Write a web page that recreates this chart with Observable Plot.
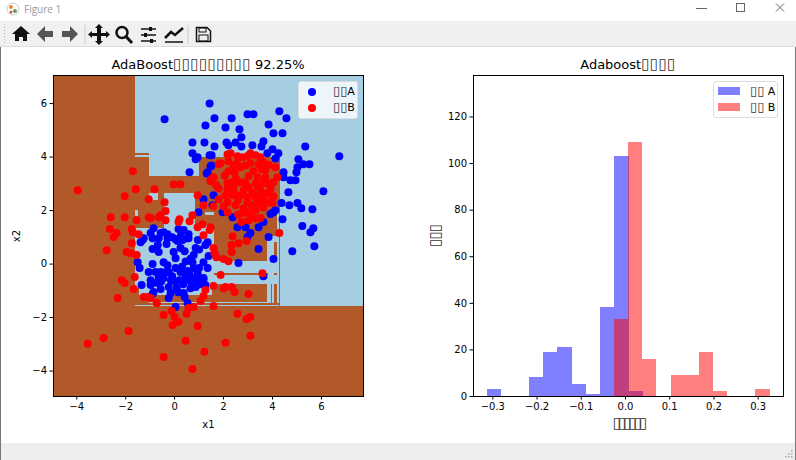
<!DOCTYPE html>
<html><head><meta charset="utf-8">
<script src="https://cdn.jsdelivr.net/npm/d3@7"></script>
<script src="https://cdn.jsdelivr.net/npm/@observablehq/plot@0.6"></script>
<style>
html,body{margin:0;padding:0;background:#fff;overflow:hidden}
#win{position:relative;width:796px;height:460px;font-family:"DejaVu Sans",sans-serif;color:#000;overflow:hidden;background:#fff}
.abs{position:absolute}
.title{font-size:13px;text-align:center;white-space:nowrap;line-height:14px}
.t{font-size:15px;letter-spacing:.4px;line-height:0;color:#333}
.legend{background:rgba(255,255,255,.8);border:1px solid #ddd;border-radius:3px;box-sizing:border-box;font-size:11px}
.legend span{position:absolute;white-space:nowrap;line-height:12px}
.legend .t{position:static;font-size:13px;letter-spacing:0;line-height:0}
#right g[aria-label="x-axis label"] text{font-size:15px;letter-spacing:-3px;fill:#333}
#right g[aria-label="y-axis label"] text{font-size:15px;letter-spacing:-1px;fill:#333}
svg{overflow:visible}
</style></head><body>
<div id="win">
  <div class="abs" style="left:0;top:0;width:796px;height:21px;background:#fff"></div>
  <svg class="abs" style="left:6px;top:2px" width="14" height="14"><circle cx="7" cy="7" r="6" fill="none" stroke="#ccc"/><circle cx="5" cy="5" r="2" fill="#e8893a"/><circle cx="9" cy="9" r="2" fill="#5a9e5a"/><circle cx="5" cy="10" r="1.5" fill="#d95050"/></svg>
  <div class="abs" style="left:24px;top:3px;font:10px 'Open Sans',sans-serif;color:#999;line-height:13px">Figure 1</div>
  <svg class="abs" style="left:690px;top:0" width="100" height="16" stroke="#666" fill="none"><path d="M6 8.5H17"/><rect x="46.5" y="3.5" width="8" height="8"/><path d="M86 3.500l8 8M94 3.500l-8 8"/></svg>
  <div class="abs" style="left:0;top:21px;width:796px;height:26px;background:#f0f0f0;border-bottom:1px solid #ddd;box-sizing:border-box"></div>
  <svg class="abs" style="left:0;top:21px" width="230" height="26">
    <path d="M4.500 3V22" stroke="#bbb" stroke-dasharray="1 2"/>
    <path d="M12 13L21 5L30 13H27V20H23V16H19V20H15V13Z" fill="#111"/>
    <path d="M37 13L45 5V10H53V16H45V21Z" fill="#555"/>
    <path d="M78 13L70 5V10H62V16H70V21Z" fill="#555"/>
    <path d="M85 4V23" stroke="#ccc"/>
    <path d="M99 3L103 7H101V12H106V10L110 13.500L106 17V15H101V20H103L99 24L95 20H97V15H92V17L88 13.500L92 10V12H97V7H95Z" fill="#111"/>
    <circle cx="122" cy="11.500" r="5.500" fill="none" stroke="#111" stroke-width="2.500"/><path d="M126 15.500L132 22" stroke="#111" stroke-width="3"/>
    <path d="M141 8H156M141 14H156M141 20H156" stroke="#111" stroke-width="1.500"/><rect x="149" y="6" width="3" height="4" fill="#111"/><rect x="144" y="12" width="3" height="4" fill="#111"/><rect x="150" y="18" width="3" height="4" fill="#111"/>
    <path d="M165 17L171 11L175 14L183 7" fill="none" stroke="#111" stroke-width="2.500"/><path d="M165 21H183" stroke="#111" stroke-width="1.500"/>
    <path d="M188 4V23" stroke="#ccc"/>
    <path d="M196.500 6.500H207L210.500 10V20.500H196.500Z" fill="none" stroke="#111" stroke-width="1.500"/><rect x="199" y="7" width="7" height="4" fill="none" stroke="#111"/><rect x="199" y="14" width="9" height="6" fill="none" stroke="#111"/>
  </svg>
  <div class="abs" style="left:0;top:47px;width:1px;height:413px;background:#777"></div>
  <div class="abs" style="left:795px;top:47px;width:1px;height:413px;background:#777"></div>
  <div id="left" class="abs" style="left:0;top:47px"></div>
  <div id="right" class="abs" style="left:398px;top:47px"></div>
  <div class="abs title" style="left:53px;width:310px;top:58px">AdaBoost<span class="t">▯▯▯▯▯▯▯▯▯</span> 92.25%</div>
  <div class="abs title" style="left:473px;width:310px;top:58px">Adaboost<span class="t">▯▯▯▯</span></div>
  <div class="abs legend" style="left:298px;top:81px;width:60px;height:38px">
    <svg class="abs" style="left:0;top:0" width="30" height="36"><circle cx="13" cy="10" r="4" fill="blue"/><circle cx="13" cy="26" r="4" fill="red"/></svg>
    <span style="left:34px;top:4px"><span class="t">▯▯</span>A</span>
    <span style="left:34px;top:20px"><span class="t">▯▯</span>B</span>
  </div>
  <div class="abs legend" style="left:713px;top:81px;width:65px;height:37px">
    <svg class="abs" style="left:0;top:0" width="30" height="36"><rect x="4" y="5" width="22" height="8" fill="blue" fill-opacity=".5"/><rect x="4" y="21" width="22" height="8" fill="red" fill-opacity=".5"/></svg>
    <span style="left:36px;top:4px"><span class="t">▯▯</span> A</span>
    <span style="left:36px;top:20px"><span class="t">▯▯</span> B</span>
  </div>
  <div class="abs" style="left:1px;top:443px;width:794px;height:17px;background:#eee"></div>
  <svg class="abs" style="left:782px;top:449px" width="12" height="10" fill="#aaa"><rect x="9" y="1" width="1.500" height="1.500"/><rect x="6" y="4" width="1.500" height="1.500"/><rect x="9" y="4" width="1.500" height="1.500"/><rect x="3" y="7" width="1.500" height="1.500"/><rect x="6" y="7" width="1.500" height="1.500"/><rect x="9" y="7" width="1.500" height="1.500"/></svg>
</div>
<script>
const classA = [[-0.41,5.41],[1.43,6.00],[1.26,5.18],[0.73,4.55],[1.22,4.55],[0.73,4.14],[0.94,3.99],[0.86,3.92],[1.43,4.07],[0.61,3.43],[1.31,3.39],[1.47,3.66],[1.18,2.42],[0.98,1.94],[1.63,5.45],[2.33,5.45],[2.08,5.11],[2.98,5.60],[3.22,5.60],[4.28,5.71],[4.57,5.45],[3.84,5.22],[2.65,5.04],[4.04,4.89],[4.41,4.89],[2.73,4.74],[1.63,4.40],[2.12,4.55],[2.20,4.44],[2.49,4.55],[2.73,4.40],[3.18,4.44],[3.63,4.59],[3.55,4.40],[5.34,4.40],[6.73,4.03],[1.51,4.07],[3.79,4.14],[4.00,4.29],[4.24,4.14],[4.12,3.95],[5.06,3.92],[5.02,3.62],[5.26,3.73],[5.51,3.73],[4.98,3.43],[4.45,3.43],[4.45,3.25],[4.73,3.13],[4.94,3.13],[1.51,3.69],[1.35,3.43],[6.08,2.72],[4.65,2.69],[1.59,2.57],[4.37,2.28],[4.69,2.20],[5.02,2.28],[5.18,2.09],[5.63,2.05],[1.96,1.94],[2.37,1.75],[3.92,1.87],[4.12,2.01],[4.41,1.68],[3.43,1.38],[3.63,1.57],[2.57,1.38],[5.22,1.42],[5.67,1.34],[2.90,1.38],[3.10,1.16],[2.98,1.01],[3.84,1.01],[4.04,1.94],[1.55,2.20],[4.04,0.19],[3.43,0.56],[2.61,0.04],[1.18,0.07],[1.39,0.30],[1.35,0.82],[1.26,0.71],[4.81,0.48],[5.71,0.67],[5.55,1.19],[3.63,-0.45],[1.18,-0.56],[-1.31,0.90],[-1.39,0.82],[-0.90,0.56],[-0.69,0.71],[-0.65,0.45],[-0.33,0.75],[-0.90,0.97],[-0.29,0.97],[0.12,0.86],[0.33,0.90],[0.57,0.97],[0.24,0.60],[-0.04,0.45],[0.41,0.48],[0.86,0.60],[0.78,0.34],[0.04,0.22],[0.73,0.07],[-0.45,0.07],[-0.29,-0.04],[-0.90,0.00],[-1.51,0.07],[-1.43,-0.15],[-1.06,-0.30],[-0.78,-0.30],[-0.57,-0.30],[-0.24,-0.30],[0.04,-0.15],[0.24,-0.30],[0.53,-0.26],[0.78,-0.15],[0.94,-0.34],[0.45,-0.48],[0.73,-0.52],[-0.98,-0.60],[-0.45,-0.52],[-0.65,-0.48],[0.04,-0.67],[-1.35,-0.78],[-0.98,-0.78],[-0.57,-0.93],[-0.24,-0.86],[0.08,-0.90],[0.65,-0.90],[0.86,-0.86],[1.02,-0.75],[1.26,-0.78],[0.37,-1.08],[0.41,-1.23],[-0.16,-1.08],[-0.24,-1.27],[-0.90,-1.12],[-0.86,-1.04],[1.18,-0.52],[0.04,-1.60],[0.53,-1.45],[1.35,-0.15],[-0.86,1.34],[-0.98,1.16],[-1.26,0.97],[-0.57,1.16],[-0.29,1.12],[-0.45,1.19],[0.16,1.31],[0.37,1.27],[0.57,1.12],[0.53,0.97],[0.04,0.93],[-0.65,0.97],[-0.10,-0.45],[0.30,-0.10],[0.50,-0.60],[0.60,-0.35],[0.20,-0.60],[0.35,-0.75],[0.90,-0.55],[1.00,-0.15],[0.65,0.20],[0.45,0.10],[-0.15,-0.60],[-0.35,-0.30],[-0.75,-0.70],[-0.55,-0.65],[0.70,-0.70],[0.15,-1.05],[1.00,0.55],[0.95,0.90],[0.25,1.05],[-0.10,1.00]];
const classB = [[-3.96,2.76],[-1.71,3.47],[-1.59,2.80],[-0.82,2.80],[-2.04,2.54],[-1.06,2.42],[-0.04,2.98],[0.24,2.98],[0.94,2.57],[-0.41,2.31],[1.18,2.20],[1.47,3.13],[-0.37,1.98],[-2.61,1.75],[-2.04,1.75],[-1.06,1.75],[-0.98,1.72],[-0.65,1.75],[-0.57,1.83],[-1.55,1.64],[-0.37,1.64],[0.20,1.68],[0.16,1.57],[0.61,1.60],[0.73,1.83],[0.94,1.38],[1.14,1.49],[-2.65,1.31],[-1.75,1.31],[1.47,1.38],[-2.37,1.16],[-2.49,1.01],[-1.71,1.19],[-1.47,1.12],[-1.75,0.78],[-2.78,0.52],[-1.96,0.45],[-1.80,0.41],[-1.55,0.34],[-1.63,-0.48],[-2.16,-0.60],[-2.04,-0.71],[-1.67,-0.93],[-2.33,-1.27],[-1.26,-1.23],[-1.10,-1.23],[-0.98,-1.27],[-0.73,-1.45],[-0.12,-1.75],[-0.45,-1.90],[0.00,-1.98],[0.16,-2.16],[-0.08,-2.28],[0.49,-1.86],[0.78,-1.60],[0.57,-1.64],[0.94,-2.31],[-1.88,-2.50],[-2.90,-2.76],[-3.55,-2.98],[0.45,-2.87],[1.22,-3.28],[-0.45,-3.47],[0.73,-3.92],[1.06,-1.38],[1.18,-1.19],[1.26,-0.97],[1.18,1.08],[1.43,1.27],[4.28,1.16],[2.37,1.04],[2.61,0.78],[2.94,0.86],[2.33,0.71],[2.33,0.45],[1.59,0.60],[1.63,0.41],[1.71,0.26],[2.00,0.19],[2.20,0.11],[1.88,-0.41],[3.59,-0.34],[1.59,-0.82],[2.00,-0.90],[2.08,-0.86],[2.33,-0.86],[2.45,-1.04],[3.02,-1.12],[1.59,-1.57],[2.57,-1.86],[2.94,-2.05],[3.10,-1.98],[3.10,-2.68],[2.08,-2.94],[2.29,4.14],[2.16,4.10],[1.88,3.77],[1.80,3.73],[2.20,3.84],[2.57,4.03],[2.78,3.99],[3.10,4.14],[3.31,4.07],[3.51,3.99],[3.63,3.80],[4.12,3.62],[4.20,3.25],[3.10,3.77],[3.43,3.73],[2.41,3.69],[2.69,3.62],[2.90,3.69],[2.20,3.47],[2.45,3.43],[3.22,3.47],[3.71,3.51],[3.02,3.28],[3.39,3.25],[3.71,3.25],[1.55,3.21],[1.59,3.25],[1.47,3.10],[2.61,3.06],[2.78,3.06],[2.16,3.02],[4.04,3.06],[1.80,2.83],[2.16,2.80],[2.41,2.83],[3.02,2.87],[3.31,3.02],[3.63,3.02],[3.92,2.83],[2.82,2.76],[3.18,2.69],[3.51,2.76],[2.08,2.57],[2.37,2.57],[2.69,2.57],[2.98,2.50],[3.31,2.50],[3.63,2.57],[1.80,2.42],[4.04,2.54],[2.16,2.31],[2.49,2.20],[2.98,2.31],[3.39,2.28],[3.71,2.31],[4.00,2.28],[1.59,2.16],[2.82,2.09],[3.31,2.01],[2.98,1.94],[3.63,2.12],[2.16,1.94],[2.78,1.90],[3.10,1.83],[3.51,1.72],[3.02,1.64],[2.73,1.57],[4.00,2.46],[3.79,2.65],[2.50,3.20],[2.90,3.00],[3.40,2.90],[3.60,2.40],[2.60,2.40],[3.15,2.20],[3.45,2.55],[2.35,3.05],[3.85,3.00],[3.85,2.30],[2.00,2.15],[2.60,1.85],[3.30,1.70],[3.55,3.55],[3.85,3.70],[2.55,3.75],[3.00,4.05],[2.45,2.60],[2.05,3.30],[1.70,2.95]];

// decision regions [x1, x2, y1, y2]
const regionB = [[-4.95,-1.59,-4.95,7.05],[-1.59,7.72,-4.95,-1.60],[-1.59,-1.02,4.07,4.14],[-1.59,-1.02,3.28,3.99],[-1.59,4.33,2.65,3.28],[-1.59,-0.41,1.34,2.65],[1.02,4.33,3.28,3.99],[0.86,4.33,1.94,2.65],[1.63,3.80,0.11,1.94],[3.80,4.20,1.04,1.94],[4.08,4.20,0.11,0.82],[1.63,3.84,-0.41,-0.34],[4.08,4.20,-0.41,-0.34],[1.55,3.80,-1.19,-0.78],[-1.43,3.80,-1.46,-1.19],[-1.59,4.29,-1.60,-1.46],[-1.59,-1.43,-1.60,-0.90],[3.96,4.00,-1.46,-0.78],[4.08,4.20,-1.60,-0.78],[4.29,4.33,-1.60,3.99],[0.86,1.27,1.34,1.94],[1.27,1.63,1.46,1.82]];
const regionAHoles = [[-1.02,-0.65,2.39,2.65],[-1.59,-1.47,1.79,2.02],[-1.02,3.80,-1.47,-1.44],[-1.59,4.29,-1.59,-1.55]];

// histogram bins
const edgesA = [-0.313,-0.281,-0.249,-0.217,-0.185,-0.153,-0.120,-0.088,-0.056,-0.024,0.008,0.040];
const countsA = [3,0,0,8,19,21,5,1,38,103,2];
const edgesB = [-0.025,0.007,0.039,0.071,0.103,0.135,0.167,0.199,0.231,0.263,0.295,0.327];
const countsB = [33,109,16,0,9,9,19,2,0,0,3];

const xTicksL = [-4,-2,0,2,4,6], yTicksL = [-4,-2,0,2,4,6];
const xTicksR = [-0.3,-0.2,-0.1,0,0.1,0.2,0.3], yTicksR = [0,20,40,60,80,100,120];

const font = {fontFamily:"DejaVu Sans", fontSize:"10px", color:"#000", background:"transparent"};
const rect = (rows, fill) => Plot.rect(rows,{x1:d=>d[0],x2:d=>d[1],y1:d=>d[2],y2:d=>d[3],fill,shapeRendering:"crispEdges"});
const dots = (rows, fill) => Plot.dot(rows,{x:d=>d[0],y:d=>d[1],r:4,fill});

document.getElementById("left").append(Plot.plot({
  width:398,height:396,marginLeft:53,marginRight:35,marginTop:28,marginBottom:47,style:font,
  x:{domain:[-4.95,7.72],ticks:xTicksL,tickSize:3.5,tickPadding:3,label:"x1",labelAnchor:"center",labelArrow:"none",labelOffset:31},
  y:{domain:[-4.95,7.05],ticks:yTicksL,tickSize:3.5,tickPadding:3,label:"x2",labelAnchor:"center",labelArrow:"none",labelOffset:41},
  marks:[
    rect([[-4.95,7.72,-4.95,7.05]],"#a6cee3"),
    rect(regionB,"#b15928"),
    rect(regionAHoles,"#a6cee3"),
    dots(classA,"blue"),
    dots(classB,"red"),
    Plot.frame({stroke:"#000"})
  ]
}));

const bars = (edges,counts,fill) => Plot.rectY(counts.map((c,i)=>({x1:edges[i],x2:edges[i+1],c})),{x1:"x1",x2:"x2",y1:0,y2:"c",fill,fillOpacity:0.5,shapeRendering:"crispEdges"});
document.getElementById("right").append(Plot.plot({
  width:398,height:396,marginLeft:75,marginRight:13,marginTop:28,marginBottom:47,style:font,
  x:{domain:[-0.3437,0.3572],ticks:xTicksR,tickSize:3.5,tickPadding:3,tickFormat:d3.format(".1f"),label:"▯▯▯▯▯▯",labelAnchor:"center",labelArrow:"none",labelOffset:31},
  y:{domain:[0,137.8],ticks:yTicksR,tickSize:3.5,tickPadding:3,label:"▯▯▯",labelAnchor:"center",labelArrow:"none",labelOffset:44},
  marks:[
    bars(edgesA,countsA,"blue"),
    bars(edgesB,countsB,"red"),
    Plot.frame({stroke:"#000"})
  ]
}));
</script>
</body></html>
